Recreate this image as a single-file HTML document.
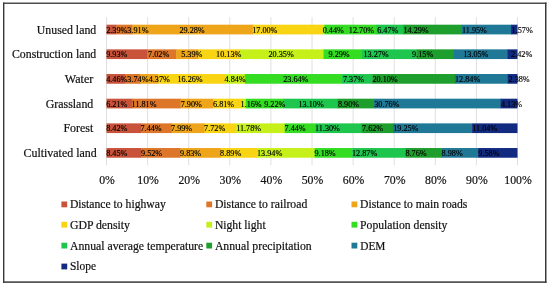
<!DOCTYPE html>
<html><head><meta charset="utf-8"><title>chart</title>
<style>
html,body{margin:0;padding:0;background:#fff;}
body{width:550px;height:287px;overflow:hidden;position:relative;}
svg{position:absolute;left:0;top:0;}
text{font-family:"Liberation Serif","Times New Roman",serif;fill:#111;stroke:#111;stroke-width:0.2px;}
.cat{font-size:12px;}
.ax{font-size:12.2px;}
.lg{font-size:12px;}
.dl{font-size:8.2px;fill:#000;stroke:#000;stroke-width:0.15px;}
</style></head><body>
<svg width="550" height="287" viewBox="0 0 550 287">
<rect x="0" y="0" width="550" height="287" fill="#fff"/>
<g fill="#3a3a3a"><rect x="3" y="2.55" width="1.4" height="280.3"/><rect x="3" y="2.55" width="543.5" height="1.35"/><rect x="545" y="2.55" width="1.5" height="280.3"/><rect x="3" y="281.35" width="543.5" height="1.5"/></g>

<line x1="106.50" y1="17.2" x2="106.50" y2="165.22" stroke="#e0e0e0" stroke-width="1"/>
<line x1="147.60" y1="17.2" x2="147.60" y2="165.22" stroke="#e0e0e0" stroke-width="1"/>
<line x1="188.70" y1="17.2" x2="188.70" y2="165.22" stroke="#e0e0e0" stroke-width="1"/>
<line x1="229.80" y1="17.2" x2="229.80" y2="165.22" stroke="#e0e0e0" stroke-width="1"/>
<line x1="270.90" y1="17.2" x2="270.90" y2="165.22" stroke="#e0e0e0" stroke-width="1"/>
<line x1="312.00" y1="17.2" x2="312.00" y2="165.22" stroke="#e0e0e0" stroke-width="1"/>
<line x1="353.10" y1="17.2" x2="353.10" y2="165.22" stroke="#e0e0e0" stroke-width="1"/>
<line x1="394.20" y1="17.2" x2="394.20" y2="165.22" stroke="#e0e0e0" stroke-width="1"/>
<line x1="435.30" y1="17.2" x2="435.30" y2="165.22" stroke="#e0e0e0" stroke-width="1"/>
<line x1="476.40" y1="17.2" x2="476.40" y2="165.22" stroke="#e0e0e0" stroke-width="1"/>
<line x1="517.50" y1="17.2" x2="517.50" y2="165.22" stroke="#e0e0e0" stroke-width="1"/>
<rect x="106.50" y="24.69" width="10.22" height="9.7" fill="#C9523B"/>
<rect x="116.32" y="24.69" width="16.47" height="9.7" fill="#DD7629"/>
<rect x="132.39" y="24.69" width="120.74" height="9.7" fill="#EEA519"/>
<rect x="252.73" y="24.69" width="70.27" height="9.7" fill="#F9D412"/>
<rect x="322.60" y="24.69" width="2.21" height="9.7" fill="#C6F01A"/>
<rect x="324.41" y="24.69" width="52.60" height="9.7" fill="#34DC22"/>
<rect x="376.61" y="24.69" width="26.99" height="9.7" fill="#1EC64E"/>
<rect x="403.20" y="24.69" width="59.13" height="9.7" fill="#1E9E2C"/>
<rect x="461.93" y="24.69" width="49.51" height="9.7" fill="#1E7896"/>
<rect x="511.05" y="24.69" width="6.45" height="9.7" fill="#122B80"/>
<text class="dl" x="106.20" y="32.63">2.39%</text>
<text class="dl" x="127.30" y="32.63">3.91%</text>
<text class="dl" x="179.40" y="32.63">29.28%</text>
<text class="dl" x="252.20" y="32.63">17.00%</text>
<text class="dl" x="322.70" y="32.63">0.44%</text>
<text class="dl" x="348.80" y="32.63">12.70%</text>
<text class="dl" x="377.20" y="32.63">6.47%</text>
<text class="dl" x="403.40" y="32.63">14.29%</text>
<text class="dl" x="462.00" y="32.63">11.95%</text>
<text class="dl" x="511.60" y="32.63">1.57%</text>
<text class="cat" x="36.80" y="33.73" textLength="59.40" lengthAdjust="spacingAndGlyphs">Unused land</text>
<rect x="106.50" y="49.35" width="41.21" height="9.7" fill="#C9523B"/>
<rect x="147.31" y="49.35" width="29.25" height="9.7" fill="#DD7629"/>
<rect x="176.16" y="49.35" width="22.55" height="9.7" fill="#EEA519"/>
<rect x="198.32" y="49.35" width="42.03" height="9.7" fill="#F9D412"/>
<rect x="239.95" y="49.35" width="84.04" height="9.7" fill="#C6F01A"/>
<rect x="323.59" y="49.35" width="38.58" height="9.7" fill="#34DC22"/>
<rect x="361.77" y="49.35" width="54.94" height="9.7" fill="#1EC64E"/>
<rect x="416.31" y="49.35" width="38.01" height="9.7" fill="#1E9E2C"/>
<rect x="453.92" y="49.35" width="54.04" height="9.7" fill="#1E7896"/>
<rect x="507.55" y="49.35" width="9.95" height="9.7" fill="#122B80"/>
<text class="dl" x="106.20" y="57.30">9.93%</text>
<text class="dl" x="148.10" y="57.30">7.02%</text>
<text class="dl" x="181.20" y="57.30">5.39%</text>
<text class="dl" x="216.10" y="57.30">10.13%</text>
<text class="dl" x="268.50" y="57.30">20.35%</text>
<text class="dl" x="328.50" y="57.30">9.29%</text>
<text class="dl" x="363.40" y="57.30">13.27%</text>
<text class="dl" x="412.10" y="57.30">9.15%</text>
<text class="dl" x="463.20" y="57.30">13.05%</text>
<text class="dl" x="511.10" y="57.30">2.42%</text>
<text class="cat" x="12.00" y="58.41" textLength="84.20" lengthAdjust="spacingAndGlyphs">Construction land</text>
<rect x="106.50" y="74.03" width="18.73" height="9.7" fill="#C9523B"/>
<rect x="124.83" y="74.03" width="15.77" height="9.7" fill="#DD7629"/>
<rect x="140.20" y="74.03" width="18.36" height="9.7" fill="#EEA519"/>
<rect x="158.16" y="74.03" width="67.23" height="9.7" fill="#F9D412"/>
<rect x="224.99" y="74.03" width="20.29" height="9.7" fill="#C6F01A"/>
<rect x="244.88" y="74.03" width="97.56" height="9.7" fill="#34DC22"/>
<rect x="342.04" y="74.03" width="30.69" height="9.7" fill="#1EC64E"/>
<rect x="372.33" y="74.03" width="83.01" height="9.7" fill="#1E9E2C"/>
<rect x="454.95" y="74.03" width="53.17" height="9.7" fill="#1E7896"/>
<rect x="507.72" y="74.03" width="9.78" height="9.7" fill="#122B80"/>
<text class="dl" x="106.20" y="81.97">4.46%</text>
<text class="dl" x="127.30" y="81.97">3.74%</text>
<text class="dl" x="148.70" y="81.97">4.37%</text>
<text class="dl" x="177.40" y="81.97">16.26%</text>
<text class="dl" x="224.50" y="81.97">4.84%</text>
<text class="dl" x="283.20" y="81.97">23.64%</text>
<text class="dl" x="342.90" y="81.97">7.37%</text>
<text class="dl" x="372.40" y="81.97">20.10%</text>
<text class="dl" x="455.00" y="81.97">12.84%</text>
<text class="dl" x="508.50" y="81.97">2.38%</text>
<text class="cat" x="64.80" y="83.08" textLength="28.50" lengthAdjust="spacingAndGlyphs">Water</text>
<rect x="106.50" y="98.70" width="25.92" height="9.7" fill="#C9523B"/>
<rect x="132.02" y="98.70" width="48.94" height="9.7" fill="#DD7629"/>
<rect x="180.56" y="98.70" width="32.87" height="9.7" fill="#EEA519"/>
<rect x="213.03" y="98.70" width="28.39" height="9.7" fill="#F9D412"/>
<rect x="241.02" y="98.70" width="5.17" height="9.7" fill="#C6F01A"/>
<rect x="245.79" y="98.70" width="38.29" height="9.7" fill="#34DC22"/>
<rect x="283.68" y="98.70" width="54.24" height="9.7" fill="#1EC64E"/>
<rect x="337.52" y="98.70" width="36.98" height="9.7" fill="#1E9E2C"/>
<rect x="374.10" y="98.70" width="126.82" height="9.7" fill="#1E7896"/>
<rect x="500.53" y="98.70" width="16.97" height="9.7" fill="#122B80"/>
<text class="dl" x="106.20" y="106.64">6.21%</text>
<text class="dl" x="131.60" y="106.64">11.81%</text>
<text class="dl" x="180.70" y="106.64">7.90%</text>
<text class="dl" x="213.00" y="106.64">6.81%</text>
<text class="dl" x="240.50" y="106.64">1.16%</text>
<text class="dl" x="264.20" y="106.64">9.22%</text>
<text class="dl" x="298.50" y="106.64">13.10%</text>
<text class="dl" x="337.90" y="106.64">8.90%</text>
<text class="dl" x="374.20" y="106.64">30.76%</text>
<text class="dl" x="500.90" y="106.64">4.13%</text>
<text class="cat" x="45.70" y="107.75" textLength="47.60" lengthAdjust="spacingAndGlyphs">Grassland</text>
<rect x="106.50" y="123.37" width="35.01" height="9.7" fill="#C9523B"/>
<rect x="141.11" y="123.37" width="30.98" height="9.7" fill="#DD7629"/>
<rect x="171.68" y="123.37" width="33.24" height="9.7" fill="#EEA519"/>
<rect x="204.52" y="123.37" width="32.13" height="9.7" fill="#F9D412"/>
<rect x="236.25" y="123.37" width="48.82" height="9.7" fill="#C6F01A"/>
<rect x="284.67" y="123.37" width="30.98" height="9.7" fill="#34DC22"/>
<rect x="315.25" y="123.37" width="46.84" height="9.7" fill="#1EC64E"/>
<rect x="361.69" y="123.37" width="31.72" height="9.7" fill="#1E9E2C"/>
<rect x="393.01" y="123.37" width="79.52" height="9.7" fill="#1E7896"/>
<rect x="472.13" y="123.37" width="45.37" height="9.7" fill="#122B80"/>
<text class="dl" x="106.20" y="131.31">8.42%</text>
<text class="dl" x="140.50" y="131.31">7.44%</text>
<text class="dl" x="171.00" y="131.31">7.99%</text>
<text class="dl" x="204.10" y="131.31">7.72%</text>
<text class="dl" x="236.20" y="131.31">11.78%</text>
<text class="dl" x="284.50" y="131.31">7.44%</text>
<text class="dl" x="315.00" y="131.31">11.30%</text>
<text class="dl" x="362.00" y="131.31">7.62%</text>
<text class="dl" x="393.20" y="131.31">19.25%</text>
<text class="dl" x="472.30" y="131.31">11.04%</text>
<text class="cat" x="63.40" y="132.41" textLength="29.90" lengthAdjust="spacingAndGlyphs">Forest</text>
<rect x="106.50" y="148.03" width="35.13" height="9.7" fill="#C9523B"/>
<rect x="141.23" y="148.03" width="39.53" height="9.7" fill="#DD7629"/>
<rect x="180.36" y="148.03" width="40.80" height="9.7" fill="#EEA519"/>
<rect x="220.76" y="148.03" width="36.94" height="9.7" fill="#F9D412"/>
<rect x="257.30" y="148.03" width="57.69" height="9.7" fill="#C6F01A"/>
<rect x="314.59" y="148.03" width="38.13" height="9.7" fill="#34DC22"/>
<rect x="352.32" y="148.03" width="53.30" height="9.7" fill="#1EC64E"/>
<rect x="405.21" y="148.03" width="36.40" height="9.7" fill="#1E9E2C"/>
<rect x="441.22" y="148.03" width="37.31" height="9.7" fill="#1E7896"/>
<rect x="478.13" y="148.03" width="39.37" height="9.7" fill="#122B80"/>
<text class="dl" x="106.20" y="155.98">8.45%</text>
<text class="dl" x="141.00" y="155.98">9.52%</text>
<text class="dl" x="180.00" y="155.98">9.83%</text>
<text class="dl" x="220.10" y="155.98">8.89%</text>
<text class="dl" x="257.00" y="155.98">13.94%</text>
<text class="dl" x="314.50" y="155.98">9.18%</text>
<text class="dl" x="352.00" y="155.98">12.87%</text>
<text class="dl" x="405.40" y="155.98">8.76%</text>
<text class="dl" x="441.60" y="155.98">8.98%</text>
<text class="dl" x="478.30" y="155.98">9.58%</text>
<text class="cat" x="23.50" y="157.08" textLength="73.20" lengthAdjust="spacingAndGlyphs">Cultivated land</text>
<text class="ax" x="99.15" y="183.8" textLength="15.7" lengthAdjust="spacingAndGlyphs">0%</text>
<text class="ax" x="137.30" y="183.8" textLength="21.6" lengthAdjust="spacingAndGlyphs">10%</text>
<text class="ax" x="178.40" y="183.8" textLength="21.6" lengthAdjust="spacingAndGlyphs">20%</text>
<text class="ax" x="219.50" y="183.8" textLength="21.6" lengthAdjust="spacingAndGlyphs">30%</text>
<text class="ax" x="260.60" y="183.8" textLength="21.6" lengthAdjust="spacingAndGlyphs">40%</text>
<text class="ax" x="301.70" y="183.8" textLength="21.6" lengthAdjust="spacingAndGlyphs">50%</text>
<text class="ax" x="342.80" y="183.8" textLength="21.6" lengthAdjust="spacingAndGlyphs">60%</text>
<text class="ax" x="383.90" y="183.8" textLength="21.6" lengthAdjust="spacingAndGlyphs">70%</text>
<text class="ax" x="425.00" y="183.8" textLength="21.6" lengthAdjust="spacingAndGlyphs">80%</text>
<text class="ax" x="466.10" y="183.8" textLength="21.6" lengthAdjust="spacingAndGlyphs">90%</text>
<text class="ax" x="504.25" y="183.8" textLength="27.5" lengthAdjust="spacingAndGlyphs">100%</text>
<rect x="61.4" y="201.50" width="5.8" height="5.8" fill="#C9523B"/>
<text class="lg" x="69.90" y="208.30" textLength="95.90" lengthAdjust="spacingAndGlyphs">Distance to highway</text>
<rect x="206.3" y="201.50" width="5.8" height="5.8" fill="#DD7629"/>
<text class="lg" x="214.90" y="208.30" textLength="92.40" lengthAdjust="spacingAndGlyphs">Distance to railroad</text>
<rect x="351.5" y="201.50" width="5.8" height="5.8" fill="#EEA519"/>
<text class="lg" x="360.10" y="208.30" textLength="107.20" lengthAdjust="spacingAndGlyphs">Distance to main roads</text>
<rect x="61.4" y="221.80" width="5.8" height="5.8" fill="#F9D412"/>
<text class="lg" x="69.90" y="228.60" textLength="60.10" lengthAdjust="spacingAndGlyphs">GDP density</text>
<rect x="206.3" y="221.80" width="5.8" height="5.8" fill="#C6F01A"/>
<text class="lg" x="214.90" y="228.60" textLength="50.80" lengthAdjust="spacingAndGlyphs">Night light</text>
<rect x="351.5" y="221.80" width="5.8" height="5.8" fill="#34DC22"/>
<text class="lg" x="360.10" y="228.60" textLength="87.20" lengthAdjust="spacingAndGlyphs">Population density</text>
<rect x="61.4" y="242.70" width="5.8" height="5.8" fill="#1EC64E"/>
<text class="lg" x="69.90" y="249.50" textLength="133.30" lengthAdjust="spacingAndGlyphs">Annual average temperature</text>
<rect x="206.3" y="242.70" width="5.8" height="5.8" fill="#1E9E2C"/>
<text class="lg" x="214.90" y="249.50" textLength="96.80" lengthAdjust="spacingAndGlyphs">Annual precipitation</text>
<rect x="351.5" y="242.70" width="5.8" height="5.8" fill="#1E7896"/>
<text class="lg" x="360.20" y="249.50" textLength="25.20" lengthAdjust="spacingAndGlyphs">DEM</text>
<rect x="61.4" y="263.60" width="5.8" height="5.8" fill="#122B80"/>
<text class="lg" x="69.90" y="270.40" textLength="26.10" lengthAdjust="spacingAndGlyphs">Slope</text>
</svg></body></html>
